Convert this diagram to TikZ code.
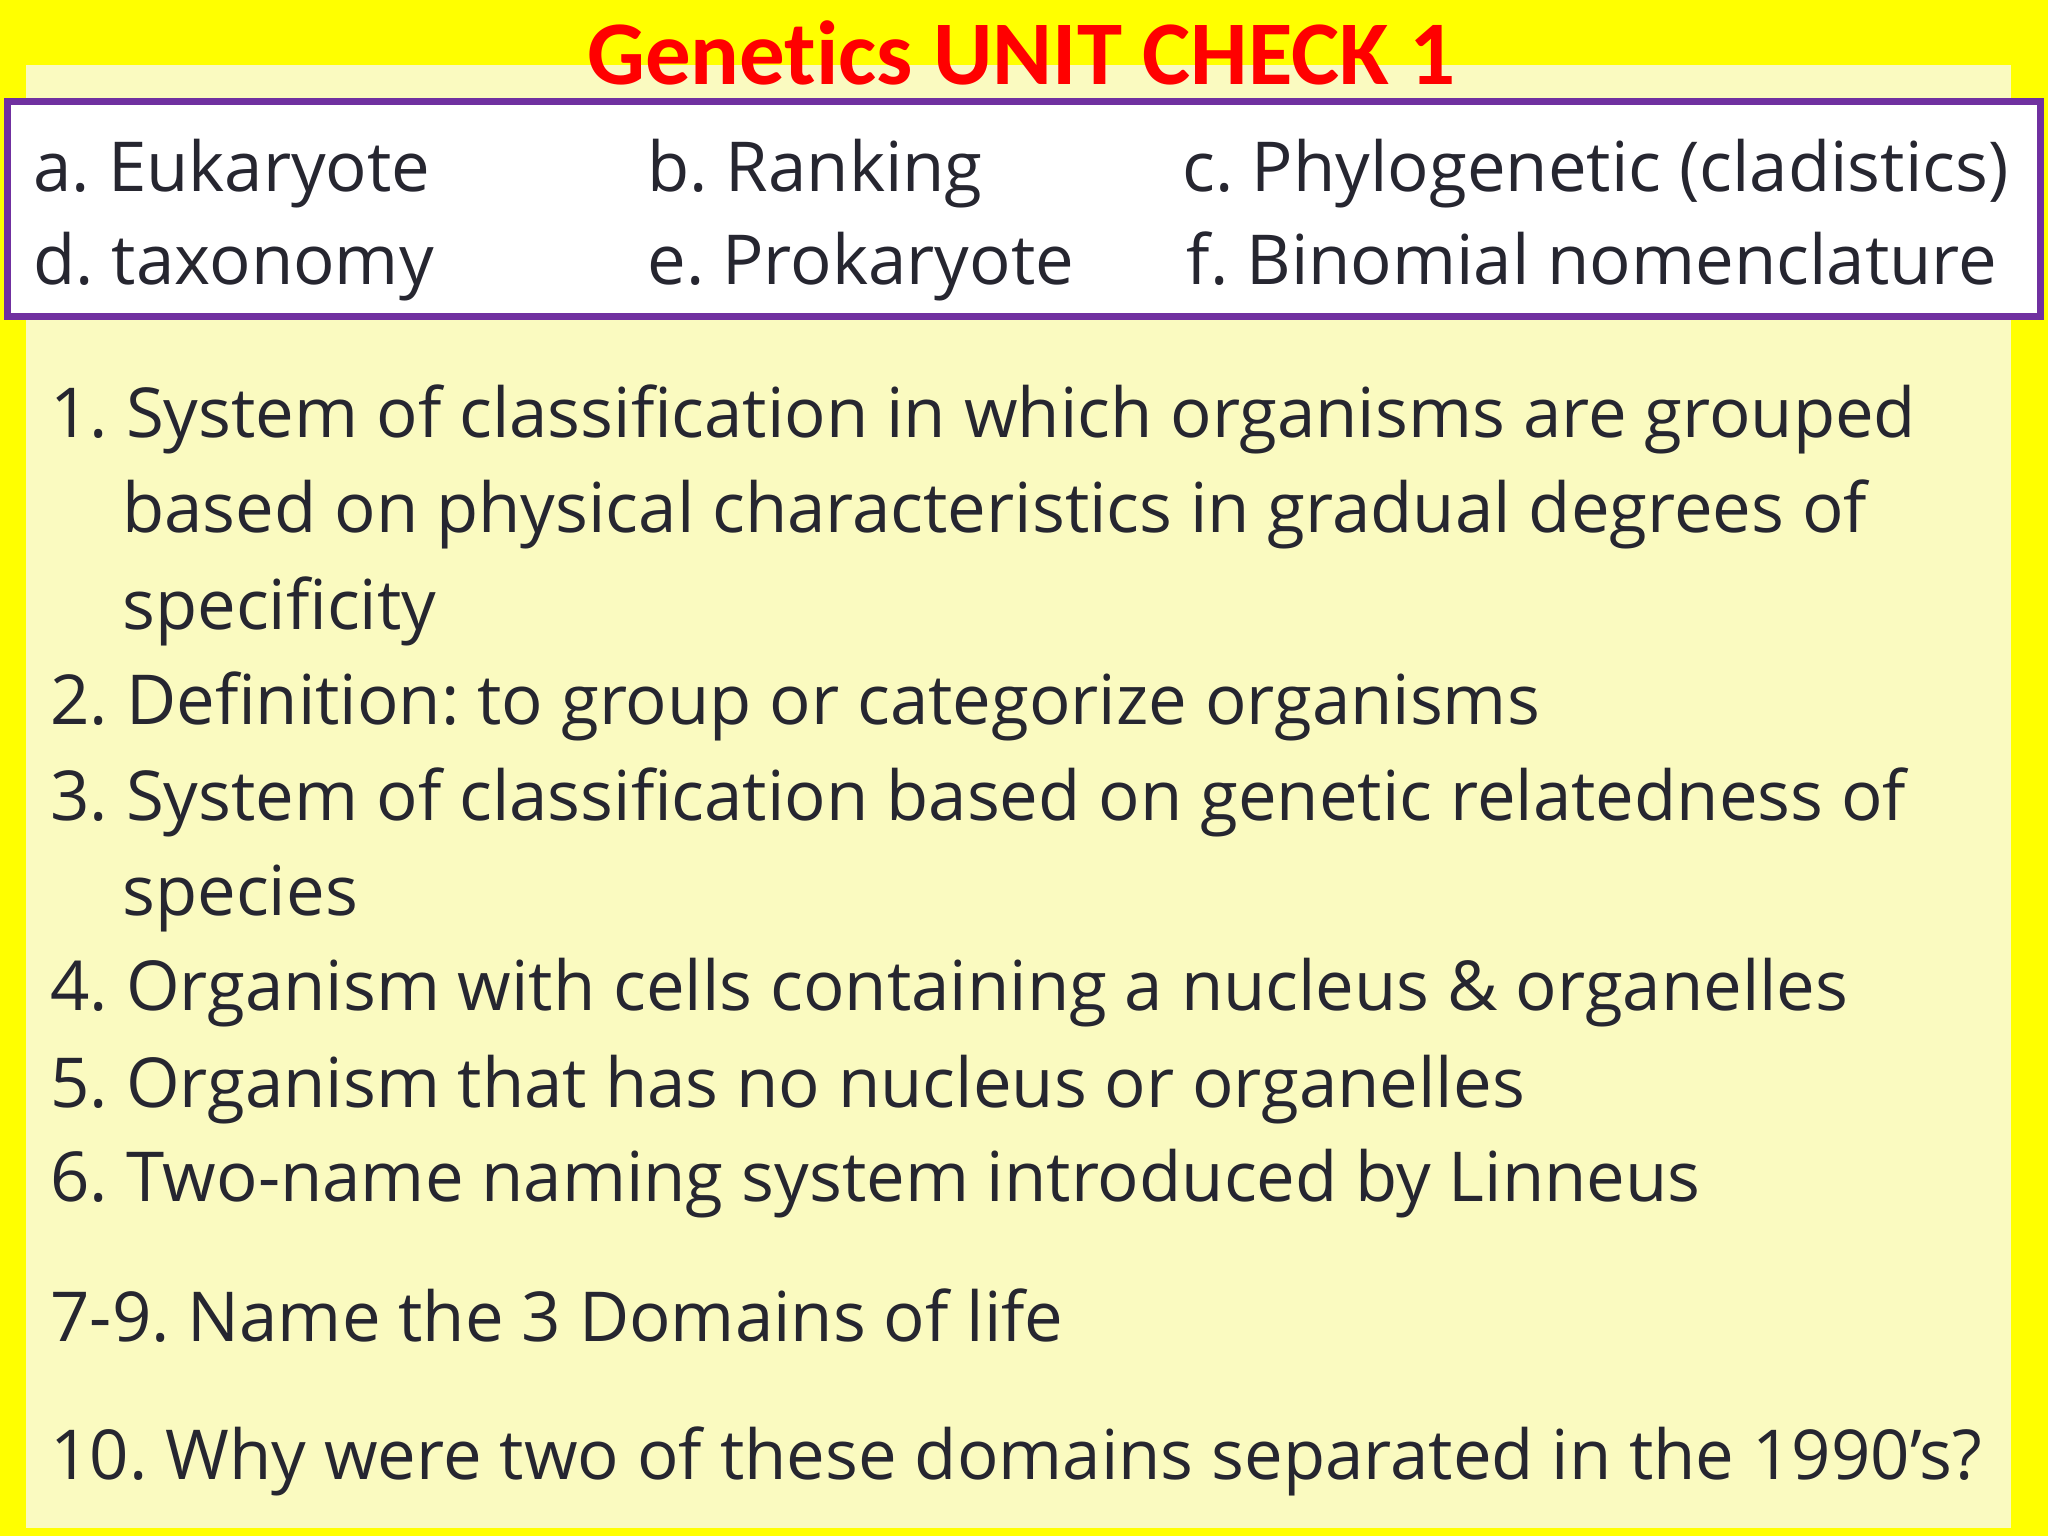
\documentclass[tikz,border=0pt]{standalone}
\usepackage{fontspec}
\setmainfont{Open Sans}
\newfontfamily\titlefont[Ligatures=NoCommon]{Carlito}
\definecolor{bgy}{HTML}{FFFF00}
\definecolor{paley}{HTML}{FAFAC0}
\definecolor{purp}{HTML}{7030A0}
\definecolor{txt}{HTML}{262630}
\frenchspacing
\begin{document}
\begin{tikzpicture}[x=0.01cm,y=-0.01cm,
  itm/.style={anchor=base west,inner sep=0pt,font=\fontsize{15}{18}\selectfont,text=txt},
  ttl/.style={anchor=base,inner sep=0pt,font=\titlefont\fontsize{19.8}{22}\selectfont\bfseries,text=red}]
\fill[bgy] (0,0) rectangle (1568,1176);
\fill[paley] (20,50) rectangle (1540,1170);
\draw[purp,line width=1.5pt,fill=white] (6,78) rectangle (1562,242);
\node[ttl] (title) at (782,65) {Genetics UNIT CHECK 1};
\node[itm] (a) at (25,147) {a. Eukaryote};
\node[itm] (b) at (495,147) {b. Ranking};
\node[itm] (c) at (905,147) {c. Phylogenetic (cladistics)};
\node[itm] (d) at (25,218) {d. taxonomy};
\node[itm] (e) at (495,218) {e. Prokaryote};
\node[itm] (f) at (908,218) {f. Binomial nomenclature};
\node[itm] (q1) at (38,335) {1. System of classification in which organisms are grouped};
\node[itm] (q1b) at (93,408) {based on physical characteristics in gradual degrees of};
\node[itm] (q1c) at (93,482) {specificity};
\node[itm] (q2) at (38,555) {2. Definition: to group or categorize organisms};
\node[itm] (q3) at (38,628) {3. System of classification based on genetic relatedness of};
\node[itm] (q3b) at (93,701) {species};
\node[itm] (q4) at (38,774) {4. Organism with cells containing a nucleus \& organelles};
\node[itm] (q5) at (38,848) {5. Organism that has no nucleus or organelles};
\node[itm] (q6) at (38,920) {6. Two-name naming system introduced by Linneus};
\node[itm] (q7) at (38,1027) {7-9. Name the 3 Domains of life};
\node[itm] (q10) at (38,1133) {10. Why were two of these domains separated in the 1990’s?};
\end{tikzpicture}
\end{document}
